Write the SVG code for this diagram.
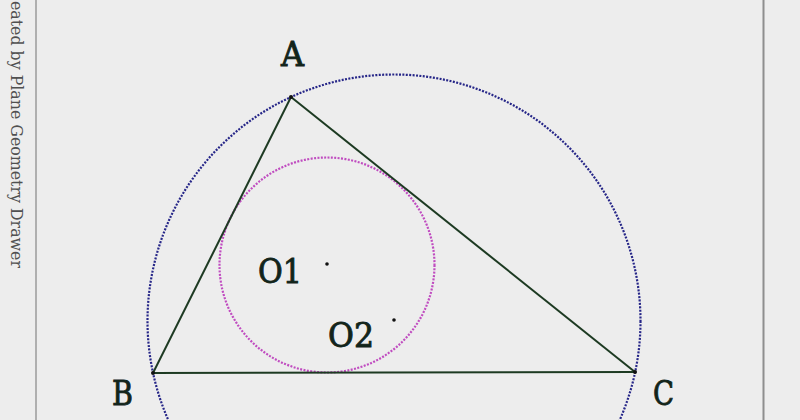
<svg xmlns="http://www.w3.org/2000/svg" width="800" height="420" viewBox="0 0 800 420">
<style>
.lbl{font-family:"DejaVu Serif",serif;font-size:34px;fill:#12241a;stroke:#12241a;stroke-width:0.9}
.side{stroke:#1d3a22;stroke-width:2;fill:none}
.pt{fill:#111}
</style>
<rect width="800" height="420" fill="#ededed"/>
<line x1="36" y1="0" x2="36" y2="420" stroke="#9a9a9a" stroke-width="1.5"/>
<line x1="763.5" y1="0" x2="763.5" y2="420" stroke="#8e8e8e" stroke-width="2"/>
<text transform="translate(11,1) rotate(90)" font-family="DejaVu Serif,serif" font-size="17" fill="#505050" textLength="267" lengthAdjust="spacingAndGlyphs">eated by Plane Geometry Drawer</text>
<g id="circumcircle"><circle cx="394" cy="321" r="246.5" fill="none" stroke="#262688" stroke-width="2.2" stroke-dasharray="2 1.4"/></g>
<g id="incircle"><circle cx="327" cy="265" r="107.5" fill="none" stroke="#c04cc0" stroke-width="2.2" stroke-dasharray="2 1.4"/></g>
<g id="connectors">
<line class="side" x1="291" y1="97" x2="153" y2="373"/>
<line class="side" x1="291" y1="97" x2="635" y2="372"/>
<line class="side" x1="153" y1="373" x2="635" y2="372"/>
</g>
<g id="A"><circle class="pt" cx="291" cy="97" r="2"/><text class="lbl" x="281" y="66" textLength="23" lengthAdjust="spacingAndGlyphs">A</text></g>
<g id="B"><circle class="pt" cx="153" cy="373" r="2"/><text class="lbl" x="112" y="405" textLength="21" lengthAdjust="spacingAndGlyphs">B</text></g>
<g id="C"><circle class="pt" cx="635" cy="372" r="2"/><text class="lbl" x="653" y="405" textLength="21" lengthAdjust="spacingAndGlyphs">C</text></g>
<g id="O1"><circle class="pt" cx="327" cy="264" r="1.8"/><text class="lbl" x="258" y="283" textLength="44" lengthAdjust="spacingAndGlyphs">O1</text></g>
<g id="O2"><circle class="pt" cx="394" cy="320" r="1.8"/><text class="lbl" x="328" y="347" textLength="46" lengthAdjust="spacingAndGlyphs">O2</text></g>
</svg>
